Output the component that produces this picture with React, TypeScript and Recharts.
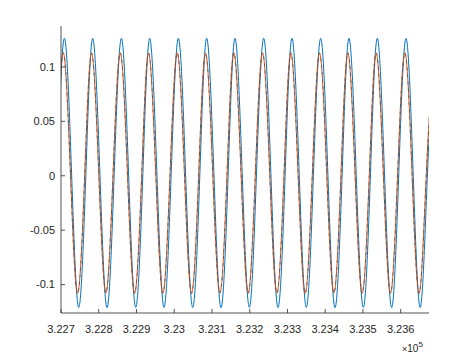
import React from "react";
import { LineChart, Line, XAxis, YAxis } from "recharts";

// sample index (x) and signal value at peaks / zero crossings / troughs
// first and last points sit just outside the visible x range and get clipped
const blueX = [
  322690,
  322709, 322728, 322747, 322766,
  322784, 322803, 322822, 322841,
  322860, 322879, 322898, 322917,
  322935, 322954, 322973, 322992,
  323011, 323030, 323049, 323068,
  323086, 323105, 323124, 323143,
  323161, 323180, 323199, 323218,
  323237, 323256, 323275, 323294,
  323312, 323331, 323350, 323369,
  323388, 323407, 323426, 323445,
  323463, 323482, 323501, 323520,
  323538, 323557, 323576, 323595,
  323614, 323633, 323652, 323671,
  323690,
];
const blueY = [
  0.0027,
  0.1263, 0.0027, -0.121, 0.0027,
  0.1262, 0.0027, -0.1212, 0.0027,
  0.1263, 0.0027, -0.121, 0.0027,
  0.1262, 0.0027, -0.1211, 0.0027,
  0.1263, 0.0027, -0.121, 0.0027,
  0.1263, 0.0027, -0.1212, 0.0027,
  0.1262, 0.0027, -0.121, 0.0027,
  0.1263, 0.0027, -0.1211, 0.0027,
  0.1263, 0.0027, -0.121, 0.0027,
  0.1262, 0.0027, -0.1212, 0.0027,
  0.1263, 0.0027, -0.121, 0.0027,
  0.1263, 0.0027, -0.1211, 0.0027,
  0.1262, 0.0027, -0.121, 0.0027,
  0.1262,
];

const orangeX = [
  322687,
  322706, 322725, 322744, 322763,
  322781, 322800, 322819, 322838,
  322857, 322876, 322895, 322914,
  322932, 322951, 322970, 322989,
  323008, 323027, 323046, 323065,
  323083, 323102, 323121, 323140,
  323158, 323177, 323196, 323215,
  323234, 323253, 323272, 323291,
  323309, 323328, 323347, 323366,
  323385, 323404, 323423, 323442,
  323460, 323479, 323498, 323517,
  323535, 323554, 323573, 323592,
  323611, 323630, 323649, 323668,
  323687,
];
const orangeY = [
  0.0025,
  0.113, 0.0025, -0.108, 0.0025,
  0.1128, 0.0025, -0.1078, 0.0025,
  0.113, 0.0025, -0.108, 0.0025,
  0.1129, 0.0025, -0.1079, 0.0025,
  0.113, 0.0025, -0.108, 0.0025,
  0.1128, 0.0025, -0.1078, 0.0025,
  0.113, 0.0025, -0.108, 0.0025,
  0.1129, 0.0025, -0.1079, 0.0025,
  0.113, 0.0025, -0.108, 0.0025,
  0.1128, 0.0025, -0.1078, 0.0025,
  0.113, 0.0025, -0.108, 0.0025,
  0.1129, 0.0025, -0.1079, 0.0025,
  0.113, 0.0025, -0.108, 0.0025,
  0.113,
];

const xTicks = [322700, 322800, 322900, 323000, 323100, 323200, 323300, 323400, 323500, 323600];
const yTicks = [-0.1, -0.05, 0, 0.05, 0.1];

const blueData = blueX.map((x, i) => ({ x, y: blueY[i] }));
const orangeData = orangeX.map((x, i) => ({ x, y: orangeY[i] }));

const axisColor = "#262626";
const font = "'Liberation Sans', Arial, sans-serif";
const tickStyle = { fontSize: 11, fill: axisColor, fontFamily: font };

export default function App() {
  return (
    <div style={{ position: "absolute", left: 0, top: 0, width: 474, height: 355, background: "#fff" }}>
      <LineChart width={474} height={355} margin={{ top: 26, right: 45, bottom: 12, left: 0 }}>
        <XAxis
          dataKey="x"
          type="number"
          domain={[322700, 323675]}
          allowDataOverflow
          ticks={xTicks}
          tickFormatter={(v: number) => String(parseFloat((v / 1e5).toFixed(4)))}
          height={30}
          tickSize={-4}
          tickMargin={16}
          stroke={axisColor}
          tick={tickStyle}
          axisLine={{ stroke: axisColor, strokeWidth: 0.8 }}
          tickLine={{ stroke: axisColor, strokeWidth: 0.8 }}
        />
        <YAxis
          type="number"
          domain={[-0.1261, 0.1376]}
          allowDataOverflow
          ticks={yTicks}
          tickFormatter={(v: number) => (v === 0 ? "0" : String(v))}
          width={61}
          tickSize={-4}
          tickMargin={10}
          stroke={axisColor}
          tick={tickStyle}
          axisLine={{ stroke: axisColor, strokeWidth: 0.8 }}
          tickLine={{ stroke: axisColor, strokeWidth: 0.8 }}
        />
        <Line data={blueData} dataKey="y" type="natural" stroke="#0072BD" strokeWidth={1} dot={false} activeDot={false} isAnimationActive={false} />
        <Line data={orangeData} dataKey="y" type="natural" stroke="#D95319" strokeWidth={1} dot={false} activeDot={false} isAnimationActive={false} />
        <Line data={orangeData} dataKey="y" type="natural" stroke="#4a4a4a" strokeWidth={0.7} strokeDasharray="3 4" dot={false} activeDot={false} isAnimationActive={false} />
      </LineChart>
      <div
        style={{
          position: "absolute",
          left: 402,
          top: 339,
          fontFamily: font,
          fontSize: 10,
          color: axisColor,
          whiteSpace: "nowrap",
          lineHeight: "12px",
        }}
      >
        <span style={{ fontSize: 9 }}>×</span>10<sup style={{ fontSize: 8, verticalAlign: "5px" }}>5</sup>
      </div>
    </div>
  );
}
